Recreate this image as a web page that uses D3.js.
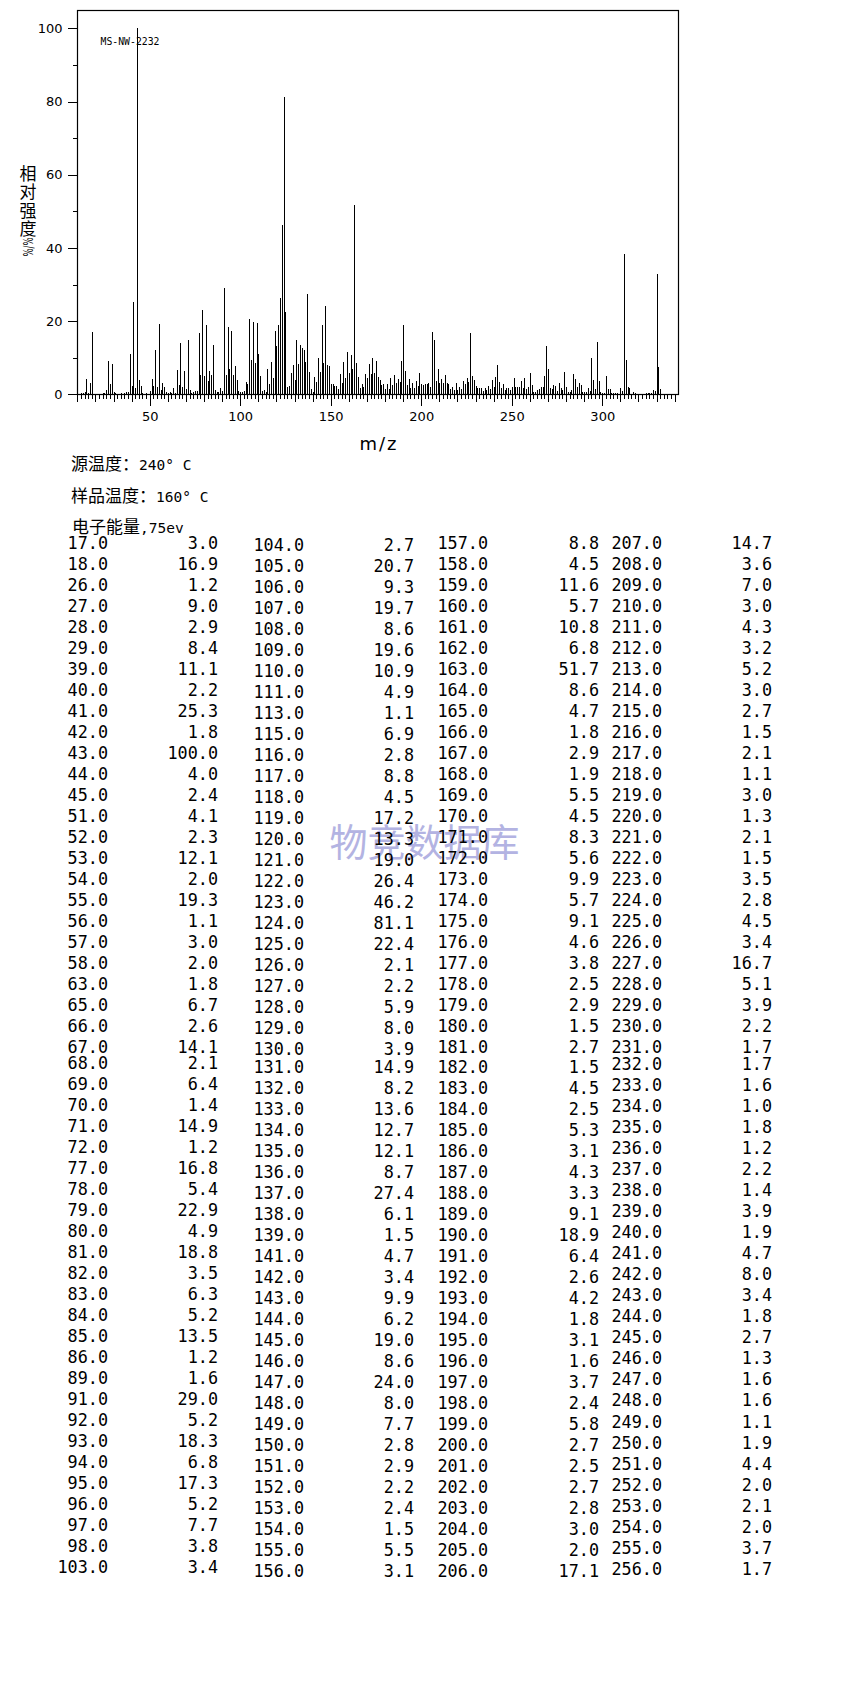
<!DOCTYPE html>
<html><head><meta charset="utf-8">
<script src="https://cdn.jsdelivr.net/npm/d3@7"></script>
<style>body{margin:0;background:#fff}svg{display:block}</style>
</head><body>
<svg id="c" width="850" height="1701"></svg>
<script>
// ---- table data (4 column pairs) ----
const col1Mz=[17,18,26,27,28,29,39,40,41,42,43,44,45,51,52,53,54,55,56,57,58,63,65,66,67,68,69,70,71,72,77,78,79,80,81,82,83,84,85,86,89,91,92,93,94,95,96,97,98,103];
const col1Int=[3.0,16.9,1.2,9.0,2.9,8.4,11.1,2.2,25.3,1.8,100.0,4.0,2.4,4.1,2.3,12.1,2.0,19.3,1.1,3.0,2.0,1.8,6.7,2.6,14.1,2.1,6.4,1.4,14.9,1.2,16.8,5.4,22.9,4.9,18.8,3.5,6.3,5.2,13.5,1.2,1.6,29.0,5.2,18.3,6.8,17.3,5.2,7.7,3.8,3.4];
const col2Mz=[104,105,106,107,108,109,110,111,113,115,116,117,118,119,120,121,122,123,124,125,126,127,128,129,130,131,132,133,134,135,136,137,138,139,141,142,143,144,145,146,147,148,149,150,151,152,153,154,155,156];
const col2Int=[2.7,20.7,9.3,19.7,8.6,19.6,10.9,4.9,1.1,6.9,2.8,8.8,4.5,17.2,13.3,19.0,26.4,46.2,81.1,22.4,2.1,2.2,5.9,8.0,3.9,14.9,8.2,13.6,12.7,12.1,8.7,27.4,6.1,1.5,4.7,3.4,9.9,6.2,19.0,8.6,24.0,8.0,7.7,2.8,2.9,2.2,2.4,1.5,5.5,3.1];
const col3Mz=[157,158,159,160,161,162,163,164,165,166,167,168,169,170,171,172,173,174,175,176,177,178,179,180,181,182,183,184,185,186,187,188,189,190,191,192,193,194,195,196,197,198,199,200,201,202,203,204,205,206];
const col3Int=[8.8,4.5,11.6,5.7,10.8,6.8,51.7,8.6,4.7,1.8,2.9,1.9,5.5,4.5,8.3,5.6,9.9,5.7,9.1,4.6,3.8,2.5,2.9,1.5,2.7,1.5,4.5,2.5,5.3,3.1,4.3,3.3,9.1,18.9,6.4,2.6,4.2,1.8,3.1,1.6,3.7,2.4,5.8,2.7,2.5,2.7,2.8,3.0,2.0,17.1];
const col4Mz=[207,208,209,210,211,212,213,214,215,216,217,218,219,220,221,222,223,224,225,226,227,228,229,230,231,232,233,234,235,236,237,238,239,240,241,242,243,244,245,246,247,248,249,250,251,252,253,254,255,256];
const col4Int=[14.7,3.6,7.0,3.0,4.3,3.2,5.2,3.0,2.7,1.5,2.1,1.1,3.0,1.3,2.1,1.5,3.5,2.8,4.5,3.4,16.7,5.1,3.9,2.2,1.7,1.7,1.6,1.0,1.8,1.2,2.2,1.4,3.9,1.9,4.7,8.0,3.4,1.8,2.7,1.3,1.6,1.6,1.1,1.9,4.4,2.0,2.1,2.0,3.7,1.7];
// ---- peaks only visible in the plot ----
const lowMz=[12,13,14,15,16,24,25,30,31,34,36,37,38,46,48,50,59,60,61,62,64,73,74,75,76,87,88,90,99,100,101,102,112,114,140];
const lowInt=[0.3,0.3,0.6,4.2,0.3,0.3,0.3,0.5,0.3,0.3,0.3,0.5,0.7,0.3,0.3,0.9,0.5,0.3,0.6,0.4,0.4,0.3,0.5,0.8,0.9,0.5,0.5,0.8,0.8,0.7,0.7,0.8,0.8,0.6,0.5];
const highMz=[257,258,259,260,261,262,263,264,265,266,267,268,269,270,271,272,273,274,275,276,277,278,279,280,281,282,283,284,285,286,287,288,289,290,291,292,293,294,295,296,297,298,299,300,301,302,303,304,305,306,307,308,310,311,312,313,314,315,317,318,324,325,326,327,328,329,330,331,332];
const highInt=[4.4,1.4,1.9,5.7,2.5,0.5,0.7,1.2,1.4,1.9,1.9,5.0,13.2,6.9,1.6,1.4,2.5,2.3,1.0,3.0,1.6,1.2,6.1,1.9,0.6,0.6,1.2,5.6,4.3,1.9,3.0,2.5,0.7,0.5,0.5,1.6,1.0,9.9,3.9,1.4,14.3,3.6,0.5,0.3,0.3,5.0,1.5,1.5,0.3,0.3,0.3,0.3,1.6,0.9,38.2,9.4,2.0,1.6,0.5,0.3,0.3,0.3,0.3,0.3,1.2,0.8,32.8,7.5,1.5];
// ---- tick labels / texts ----
const xTickLabels=[50,100,150,200,250,300];
const yTickLabels=[0,20,40,60,80,100];
const yTitleChars=["相","对","强","度"];
const headerLines=[["源温度：","240° C"],["样品温度：","160° C"],["电子能量",",75ev"]];

const svg=d3.select('#c');
const x=d3.scaleLinear().domain([10,342]).range([77.3,678.3]);
const y=d3.scaleLinear().domain([0,100]).range([394.3,28.3]);

const cols=[[col1Mz,col1Int],[col2Mz,col2Int],[col3Mz,col3Int],[col4Mz,col4Int]];
const peaks=[];
cols.forEach(([m,v])=>m.forEach((d,i)=>peaks.push({mz:d,v:v[i]})));
lowMz.forEach((d,i)=>peaks.push({mz:d,v:lowInt[i]}));
highMz.forEach((d,i)=>peaks.push({mz:d,v:highInt[i]}));

// watermark (under text)
svg.append('text').attr('x',424.5).attr('y',856).attr('text-anchor','middle')
  .attr('font-family','"Noto Sans CJK SC"').attr('font-size',38).attr('fill','#b3b3e2')
  .text('物竞数据库');

// frame
svg.append('rect').attr('x',77.5).attr('y',10.5).attr('width',601).attr('height',384)
  .attr('fill','none').attr('stroke','#000').attr('stroke-width',1.2);

// bars
svg.append('g').selectAll('line').data(peaks).join('line')
  .attr('x1',d=>Math.round(x(d.mz))+0.5).attr('x2',d=>Math.round(x(d.mz))+0.5)
  .attr('y1',y(0)).attr('y2',d=>y(d.v))
  .attr('stroke','#000').attr('stroke-width',1.1).attr('shape-rendering','crispEdges');

// x axis ticks
const gx=svg.append('g').attr('transform','translate(0,394.5)');
const minorX=d3.range(10,342,2).filter(v=>v%10!==0);
const medX=d3.range(10,342,10).filter(v=>v%50!==0);
gx.append('g').call(d3.axisBottom(x).tickValues(minorX).tickSize(4.5).tickFormat(''));
gx.append('g').call(d3.axisBottom(x).tickValues(medX).tickSize(7.5).tickFormat(''));
gx.append('g').call(d3.axisBottom(x).tickValues(xTickLabels).tickSize(11).tickPadding(6));
gx.selectAll('.domain').remove();
gx.selectAll('text').attr('font-family','"DejaVu Sans"').attr('font-size',13).attr('fill','#000');
gx.selectAll('line').attr('stroke','#000').attr('shape-rendering','crispEdges');

// y axis ticks
const gy=svg.append('g').attr('transform','translate(77.5,0)');
gy.append('g').call(d3.axisLeft(y).tickValues([10,30,50,70,90]).tickSize(5).tickFormat(''));
gy.append('g').call(d3.axisLeft(y).tickValues(yTickLabels).tickSize(10).tickPadding(5));
gy.selectAll('.domain').remove();
gy.selectAll('text').attr('font-family','"DejaVu Sans"').attr('font-size',13).attr('fill','#000');
gy.selectAll('line').attr('stroke','#000').attr('shape-rendering','crispEdges');

// in-plot label
svg.append('text').attr('x',100.5).attr('y',45.3).attr('font-family','"DejaVu Sans Mono"')
  .attr('font-size',9.8).text('MS-NW-2232');

// y title
yTitleChars.forEach((c,i)=>svg.append('text').attr('x',28).attr('y',179.5+i*18.5)
  .attr('text-anchor','middle').attr('font-family','"Noto Sans CJK SC"').attr('font-size',17).text(c));
svg.append('text').attr('transform','translate(28,247) rotate(-90)').attr('text-anchor','middle')
  .attr('dominant-baseline','central').attr('font-family','"DejaVu Sans"').attr('font-size',14)
  .attr('textLength',19).attr('lengthAdjust','spacingAndGlyphs').text('%/%');

// x title
svg.append('text').attr('x',379).attr('y',449.5).attr('text-anchor','middle')
  .attr('font-family','"DejaVu Sans"').attr('font-size',18).attr('letter-spacing',2).text('m/z');

// header lines
const hy=[469.5,502,533], hx=[71,71,72];
headerLines.forEach((p,i)=>{
  const t=svg.append('text').attr('x',hx[i]).attr('y',hy[i]);
  t.append('tspan').attr('font-family','"Noto Sans CJK SC"').attr('font-size',17).text(p[0]);
  t.append('tspan').attr('font-family','"DejaVu Sans Mono"').attr('font-size',14.5).text(p[1]);
});

// table
const mzRight=[108,304,488,662], intRight=[218,414,599,772];
const start1=[542.7,544.5,542.7,542.7], start2=[1062.7,1066.7,1066.7,1064];
const step=21.03;
cols.forEach(([m,v],k)=>{
  const g=svg.append('g').attr('font-family','"DejaVu Sans Mono"').attr('font-size',16.8).attr('fill','#000');
  m.forEach((d,i)=>{
    const cy=(i<25?start1[k]+i*step:start2[k]+(i-25)*step)+6;
    g.append('text').attr('x',mzRight[k]).attr('y',cy).attr('text-anchor','end').text(d.toFixed(1));
    g.append('text').attr('x',intRight[k]).attr('y',cy).attr('text-anchor','end').text(v[i].toFixed(1));
  });
});
</script>
</body></html>
